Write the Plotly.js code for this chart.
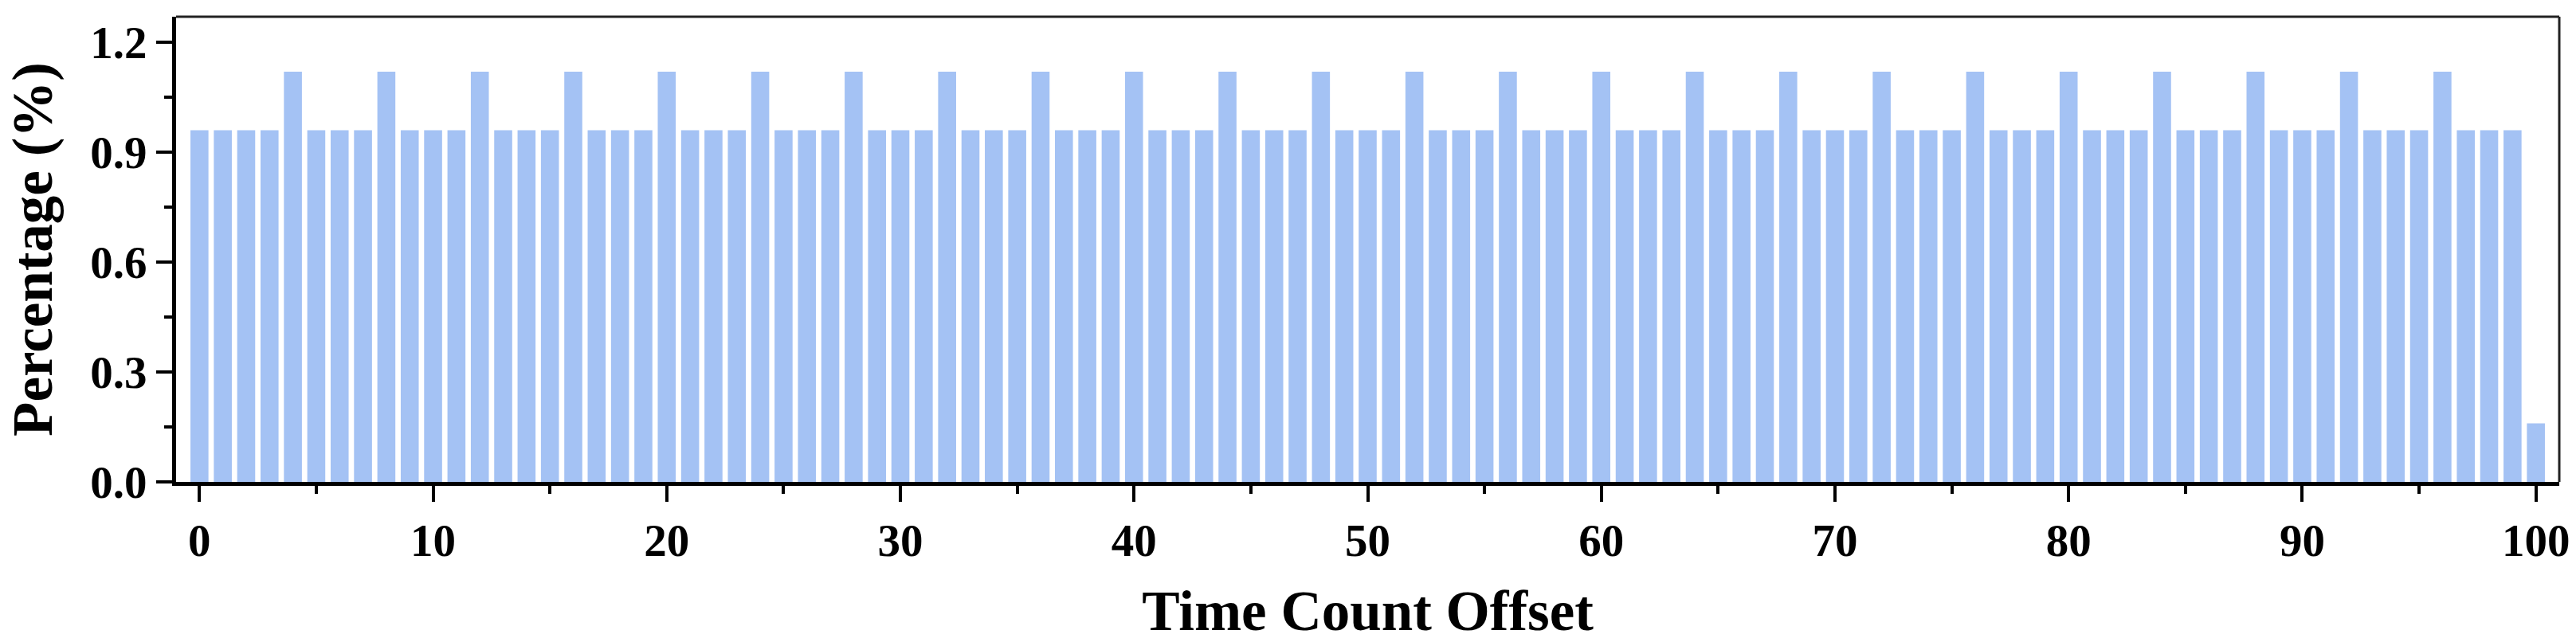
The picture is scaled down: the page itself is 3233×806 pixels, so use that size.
<!DOCTYPE html>
<html>
<head>
<meta charset="utf-8">
<script src="https://cdn.plot.ly/plotly-3.0.1.min.js"></script>
<style>
html,body{margin:0;padding:0;background:#fff;}
#chart{width:3233px;height:806px;}
</style>
</head>
<body>
<div id="chart"></div>
<script>
// Time count offsets (categories)
var offsets = [
  0,1,2,3,4,5,6,7,8,9,10,11,12,13,14,15,16,17,18,19,
  20,21,22,23,24,25,26,27,28,29,30,31,32,33,34,35,36,37,38,39,
  40,41,42,43,44,45,46,47,48,49,50,51,52,53,54,55,56,57,58,59,
  60,61,62,63,64,65,66,67,68,69,70,71,72,73,74,75,76,77,78,79,
  80,81,82,83,84,85,86,87,88,89,90,91,92,93,94,95,96,97,98,99,100
];
// Percentage (%) per offset
var percentages = [
  0.96,0.96,0.96,0.96,1.12,0.96,0.96,0.96,1.12,0.96,
  0.96,0.96,1.12,0.96,0.96,0.96,1.12,0.96,0.96,0.96,
  1.12,0.96,0.96,0.96,1.12,0.96,0.96,0.96,1.12,0.96,
  0.96,0.96,1.12,0.96,0.96,0.96,1.12,0.96,0.96,0.96,
  1.12,0.96,0.96,0.96,1.12,0.96,0.96,0.96,1.12,0.96,
  0.96,0.96,1.12,0.96,0.96,0.96,1.12,0.96,0.96,0.96,
  1.12,0.96,0.96,0.96,1.12,0.96,0.96,0.96,1.12,0.96,
  0.96,0.96,1.12,0.96,0.96,0.96,1.12,0.96,0.96,0.96,
  1.12,0.96,0.96,0.96,1.12,0.96,0.96,0.96,1.12,0.96,
  0.96,0.96,1.12,0.96,0.96,0.96,1.12,0.96,0.96,0.96,
  0.16
];
var xTickVals = [0,10,20,30,40,50,60,70,80,90,100];
var yTickVals = [0.0,0.3,0.6,0.9,1.2];
var xTitle = 'Time Count Offset';
var yTitle = 'Percentage (%)';

var serif = 'Liberation Serif, Times New Roman, serif';

var trace = {
  type: 'bar',
  x: offsets,
  y: percentages,
  marker: {color: '#a4c2f4', line: {width: 0}},
  hoverinfo: 'x+y'
};

var layout = {
  width: 3233,
  height: 806,
  margin: {l: 221, r: 21, t: 21, b: 201, pad: 0},
  paper_bgcolor: '#ffffff',
  plot_bgcolor: '#ffffff',
  bargap: 0.23,
  showlegend: false,
  font: {family: serif, color: '#000', size: 57, weight: 'bold'},
  xaxis: {
    range: [-1, 101],
    tickvals: xTickVals,
    ticks: 'outside',
    ticklen: 20,
    tickwidth: 4,
    tickcolor: '#000',
    showline: true,
    linecolor: '#000',
    linewidth: 5,
    showgrid: false,
    zeroline: false,
    tickfont: {family: serif, size: 57, color: '#000', weight: 'bold'},
    minor: {dtick: 5, tick0: 0, ticks: 'outside', ticklen: 10, tickwidth: 4, tickcolor: '#000', showgrid: false},
    title: {text: xTitle, font: {family: serif, size: 71, color: '#000', weight: 'bold'}, standoff: 36}
  },
  yaxis: {
    range: [0, 1.27],
    tickvals: yTickVals,
    tickformat: '.1f',
    ticks: 'outside',
    ticklen: 20,
    tickwidth: 4,
    tickcolor: '#000',
    showline: true,
    linecolor: '#000',
    linewidth: 5,
    showgrid: false,
    zeroline: false,
    tickfont: {family: serif, size: 57, color: '#000', weight: 'bold'},
    minor: {dtick: 0.15, tick0: 0, ticks: 'outside', ticklen: 10, tickwidth: 4, tickcolor: '#000', showgrid: false},
    title: {text: yTitle, font: {family: serif, size: 71, color: '#000', weight: 'bold'}, standoff: 26}
  },
  shapes: [
    {type: 'line', xref: 'paper', yref: 'paper', x0: 0, x1: 1, y0: 1, y1: 1, line: {color: '#222', width: 3}},
    {type: 'line', xref: 'paper', yref: 'paper', x0: 1, x1: 1, y0: 0, y1: 1, line: {color: '#222', width: 3}}
  ]
};

Plotly.newPlot('chart', [trace], layout, {displayModeBar: false, staticPlot: true});
</script>
</body>
</html>
